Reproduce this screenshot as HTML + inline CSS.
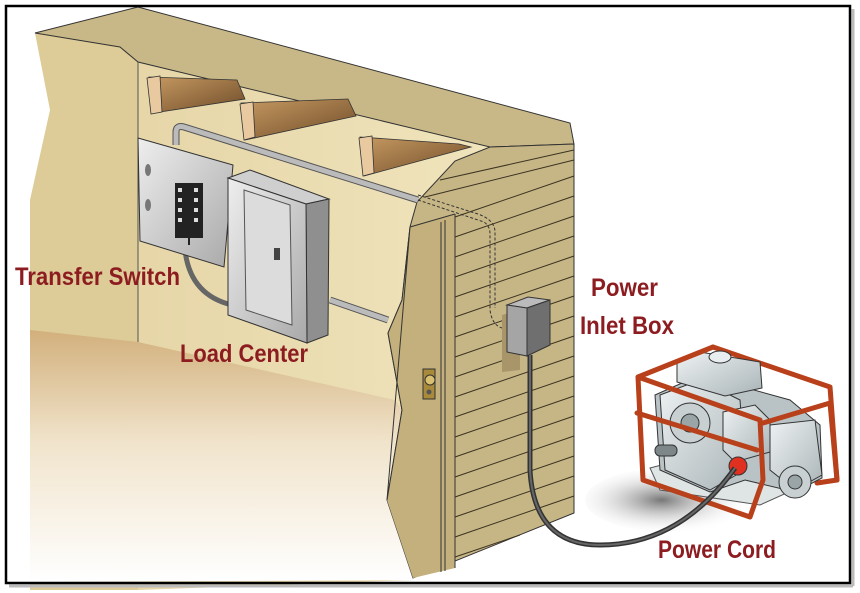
<!DOCTYPE html>
<html><head><meta charset="utf-8"><style>
html,body{margin:0;padding:0;background:#fff;}
svg{display:block}
.lbl{font-family:"Liberation Sans Narrow","Liberation Sans",sans-serif;font-weight:bold;fill:#8c1c1f;font-size:25px;}
</style></head><body>
<svg width="860" height="593" viewBox="0 0 860 593" xmlns="http://www.w3.org/2000/svg">
<defs>
<linearGradient id="floor" x1="0" y1="0" x2="0" y2="1">
<stop offset="0" stop-color="#d2b07c"/><stop offset="0.45" stop-color="#f1e4cc"/><stop offset="1" stop-color="#ffffff"/>
</linearGradient>
<linearGradient id="wall" x1="0" y1="0" x2="1" y2="0">
<stop offset="0" stop-color="#e6d6a8"/><stop offset="1" stop-color="#f0e4bc"/>
</linearGradient>
<linearGradient id="joist" x1="0" y1="0" x2="1" y2="1">
<stop offset="0" stop-color="#c79a62"/><stop offset="1" stop-color="#6e4b28"/>
</linearGradient>
<linearGradient id="metal" x1="0" y1="0" x2="1" y2="1">
<stop offset="0" stop-color="#eeeeee"/><stop offset="1" stop-color="#a9a9a9"/>
</linearGradient>
<linearGradient id="engine" x1="0" y1="0" x2="1" y2="1">
<stop offset="0" stop-color="#eef2f3"/><stop offset="1" stop-color="#a9b4b7"/>
</linearGradient>
<radialGradient id="shadow" cx="0.45" cy="0.5" r="0.55">
<stop offset="0" stop-color="#777"/><stop offset="1" stop-color="#fff" stop-opacity="0"/>
</radialGradient>
</defs>
<rect x="0" y="0" width="860" height="593" fill="#fff"/>
<polygon points="35,33 138,7 138,590 30,590 30,200 50,110" fill="#ddcb98"/>
<polygon points="138,62 490,147 455,161 417,202 410,227 402,300 388,333 402,410 387,500 413,580 138,590" fill="url(#wall)"/>
<polygon points="30,330 138,342 395,400 402,410 387,500 413,580 30,582" fill="url(#floor)"/>
<polygon points="35,33 138,7 570,123 574,144 490,147 138,62 120,47" fill="#c8b887" stroke="#333" stroke-width="1"/>
<line x1="138" y1="62" x2="138" y2="342" stroke="#555" stroke-width="1"/>
<g stroke="#333" stroke-width="0.8">
<polygon points="149,77 237,80 245,99 153,113" fill="url(#joist)"/>
<polygon points="241,103 348,99 356,116 245,140" fill="url(#joist)"/>
<polygon points="360,137 459,144 471,147 364,176" fill="url(#joist)"/>
<polygon points="147,78 160,76 162,112 151,114" fill="#e9c9a0"/>
<polygon points="240,104 253,102 255,137 244,140" fill="#e9c9a0"/>
<polygon points="359,138 372,136 374,173 363,176" fill="#e9c9a0"/>
</g>
<polygon points="490,147 574,144 574,513 413,578 387,500 402,410 388,333 402,300 410,227 417,202 455,161" fill="#c6b585" stroke="#333" stroke-width="1"/>
<g stroke="#3a3320" stroke-width="1">
<line x1="440" y1="180" x2="574" y2="150"/>
<line x1="425" y1="197" x2="574" y2="160"/>
<line x1="455" y1="217" x2="574" y2="176"/>
<line x1="455" y1="237" x2="574" y2="196"/><line x1="455" y1="257" x2="574" y2="216"/>
<line x1="455" y1="277" x2="574" y2="236"/><line x1="455" y1="297" x2="574" y2="256"/>
<line x1="455" y1="317" x2="574" y2="276"/><line x1="455" y1="337" x2="574" y2="296"/>
<line x1="455" y1="357" x2="574" y2="316"/><line x1="455" y1="377" x2="574" y2="336"/>
<line x1="455" y1="397" x2="574" y2="356"/><line x1="455" y1="417" x2="574" y2="376"/>
<line x1="455" y1="437" x2="574" y2="396"/><line x1="455" y1="457" x2="574" y2="416"/>
<line x1="455" y1="477" x2="574" y2="436"/><line x1="455" y1="497" x2="574" y2="456"/>
<line x1="455" y1="517" x2="574" y2="476"/><line x1="455" y1="537" x2="574" y2="496"/>
<line x1="455" y1="557" x2="520" y2="535"/>
</g>
<polygon points="410,227 455,214 455,568 413,578 387,500 402,410 388,333 402,300" fill="#c3b07c"/>
<line x1="410" y1="227" x2="455" y2="214" stroke="#333"/>
<line x1="441" y1="222" x2="441" y2="572" stroke="#333"/>
<line x1="445" y1="220" x2="445" y2="571" stroke="#333"/>
<line x1="455" y1="214" x2="455" y2="568" stroke="#333"/>
<polygon points="387,500 402,410 388,333 402,300 410,227" fill="none" stroke="#333"/>
<rect x="423" y="369" width="12" height="30" fill="#a88a3a" stroke="#333"/>
<circle cx="430" cy="380" r="5" fill="#d8c070" stroke="#333"/>
<circle cx="429" cy="392" r="2.5" fill="#555"/>
<path d="M176,145 L176,132 Q176,125 184,127 L418,200" fill="none" stroke="#555" stroke-width="7"/>
<path d="M176,145 L176,132 Q176,125 184,127 L418,200" fill="none" stroke="#bbb" stroke-width="5"/>
<path d="M418,200 L484,222 Q490,226 490,234 L490,310 Q492,325 502,328" fill="none" stroke="#333" stroke-width="1" stroke-dasharray="3,2"/>
<path d="M418,195 L478,214 Q495,220 495,232 L495,308" fill="none" stroke="#333" stroke-width="1" stroke-dasharray="3,2"/>
<path d="M330,300 L388,320" stroke="#555" stroke-width="7"/>
<path d="M330,300 L388,320" stroke="#bbb" stroke-width="5"/>
<path d="M185,250 Q190,295 232,305" fill="none" stroke="#666" stroke-width="5"/>
<polygon points="138,138 233,165 224,267 140,241" fill="url(#metal)" stroke="#333"/>
<rect x="175" y="183" width="28" height="55" fill="#222"/>
<g fill="#ddd"><rect x="178" y="188" width="4" height="4"/><rect x="194" y="188" width="4" height="4"/><rect x="178" y="198" width="4" height="4"/><rect x="194" y="198" width="4" height="4"/><rect x="178" y="208" width="4" height="4"/><rect x="194" y="208" width="4" height="4"/><rect x="178" y="218" width="4" height="4"/><rect x="194" y="218" width="4" height="4"/></g>
<line x1="189" y1="185" x2="189" y2="245" stroke="#222" stroke-width="2"/>
<ellipse cx="148" cy="170" rx="3" ry="6" fill="#777"/>
<ellipse cx="148" cy="205" rx="3" ry="6" fill="#777"/>
<polygon points="228,178 250,170 329,199 306,204" fill="#cfcfcf" stroke="#333"/>
<polygon points="306,204 329,199 328,335 307,343" fill="#8f8f8f" stroke="#333"/>
<polygon points="228,178 306,204 307,343 228,315" fill="url(#metal)" stroke="#333"/>
<polygon points="244,190 290,205 292,325 246,310" fill="#dcdcdc" stroke="#555"/>
<rect x="274" y="248" width="6" height="12" fill="#444"/>
<polygon points="502,315 520,310 520,370 502,372" fill="#a8966a"/>
<polygon points="507,305 528,297 550,300 527,308" fill="#bbb" stroke="#333"/>
<polygon points="527,308 550,300 550,345 527,356" fill="#6f6f6f" stroke="#333"/>
<polygon points="507,305 527,308 527,356 507,352" fill="#a5a5a5" stroke="#333"/>
<!-- generator -->
<ellipse cx="670" cy="500" rx="85" ry="32" fill="url(#shadow)"/>
<g fill="none" stroke="#b8401a" stroke-width="5" stroke-linejoin="round" stroke-linecap="round">
<path d="M713,347 L830,387 L837,480 L817,483"/>
</g>
<polygon points="650,468 700,455 820,478 760,505 660,490" fill="#dfe4e5" stroke="#555"/>
<polygon points="655,395 700,375 790,400 820,425 822,478 795,492 745,480 710,492 660,470" fill="#b9c3c6" stroke="#333"/>
<polygon points="660,395 700,380 740,400 745,470 710,490 665,470" fill="url(#engine)" stroke="#333"/>
<polygon points="677,362 700,352 760,362 762,388 725,396 677,382" fill="url(#engine)" stroke="#333"/>
<ellipse cx="720" cy="357" rx="11" ry="6" fill="#e8eeef" stroke="#333"/>
<polygon points="723,412 755,405 770,420 770,452 735,462 723,450" fill="url(#engine)" stroke="#333"/>
<polygon points="770,425 815,420 822,475 795,490 770,470" fill="url(#engine)" stroke="#333"/>
<circle cx="690" cy="423" r="20" fill="#c8d0d2" stroke="#333"/>
<circle cx="690" cy="423" r="9" fill="#9aa5a8" stroke="#333"/>
<rect x="655" y="445" width="22" height="11" rx="5" fill="#7d8689" stroke="#333"/>
<circle cx="795" cy="482" r="16" fill="#c8d0d2" stroke="#333"/>
<circle cx="795" cy="482" r="7" fill="#9aa5a8" stroke="#333"/>
<g fill="none" stroke="#b8401a" stroke-width="5" stroke-linejoin="round" stroke-linecap="round">
<path d="M713,347 L638,377 L643,480 L750,517 L763,480 L760,420 L638,377"/>
<path d="M637,413 L757,450"/>
<path d="M763,423 L830,403 L837,480"/>
</g>
<circle cx="738" cy="466" r="9" fill="#e03020" stroke="#333"/>
<path d="M530,355 L530,470 Q534,545 600,545 Q680,545 735,468" fill="none" stroke="#333" stroke-width="5"/>
<path d="M530,355 L530,470 Q534,545 600,545 Q680,545 735,468" fill="none" stroke="#666" stroke-width="2"/>
<rect x="6" y="6" width="844" height="577" fill="none" stroke="#000" stroke-width="2.5"/>
<line x1="9" y1="586" x2="853" y2="586" stroke="#bbb" stroke-width="3"/>
<line x1="853" y1="9" x2="853" y2="586" stroke="#bbb" stroke-width="3"/>
<text class="lbl" x="15" y="285" textLength="165" lengthAdjust="spacingAndGlyphs">Transfer Switch</text>
<text class="lbl" x="180" y="362" textLength="128" lengthAdjust="spacingAndGlyphs">Load Center</text>
<text class="lbl" x="591" y="296" textLength="67" lengthAdjust="spacingAndGlyphs">Power</text>
<text class="lbl" x="580" y="334" textLength="94" lengthAdjust="spacingAndGlyphs">Inlet Box</text>
<text class="lbl" x="658" y="558" textLength="118" lengthAdjust="spacingAndGlyphs">Power Cord</text>
</svg>
</body></html>
